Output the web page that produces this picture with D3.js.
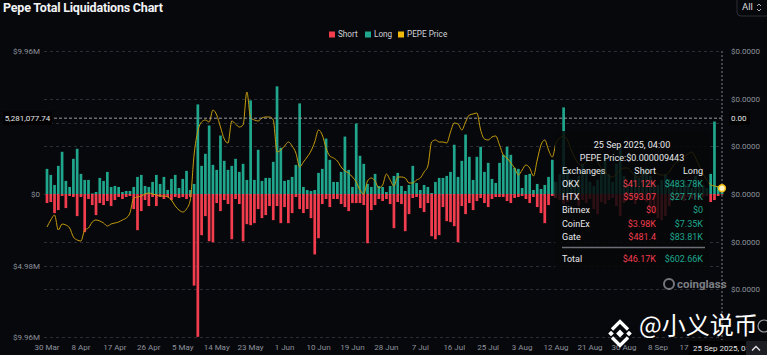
<!DOCTYPE html>
<html><head><meta charset="utf-8">
<script src="https://cdn.jsdelivr.net/npm/d3@7"></script>
<style>
html,body{margin:0;padding:0;background:#07080c;overflow:hidden;}
svg{display:block;font-family:Roboto,"Noto Sans",sans-serif;}
</style></head><body>
<svg id="c" width="767" height="355"></svg>
<script>
// ---------- DATA ----------
const startDate = "2025-03-30"; // one bar per day, 30 Mar -> 25 Sep 2025
// Long liquidations, $M per day
const longM = [1.75,1.33,0.63,1.96,2.94,0.91,0.49,2.45,3.15,1.40,0.98,0.98,0.04,0.14,1.12,0.91,1.54,0.49,0.56,0.49,
0.14,0.21,0.21,0.49,1.19,1.33,0.56,0.49,0.84,1.33,0.70,1.19,0.28,1.05,1.33,0.42,1.05,1.61,0.28,0.70,
6.24,1.96,2.80,4.77,2.03,1.68,4.07,2.31,1.68,1.96,2.45,1.54,2.10,0.98,6.52,0.98,3.08,0.91,1.12,1.12,
2.24,7.50,3.22,0.91,0.98,1.19,2.03,6.31,0.49,0.28,0.21,0.28,1.47,1.75,3.86,2.38,0.84,0.84,1.54,4.00,
1.68,0.49,4.91,2.66,2.10,0.70,0.49,1.40,0.56,0.49,0.14,0.56,1.26,1.47,0.56,0.21,0.63,1.96,0.77,0.28,
0.63,0.49,0.07,0.84,1.12,1.12,1.26,1.54,3.43,1.19,2.31,4.14,2.59,0.98,2.59,3.29,1.54,2.17,1.05,0.77,
2.17,2.73,3.29,2.73,1.82,1.75,0.42,1.33,1.40,0.28,0.70,0.35,0.63,1.19,2.38,0.84,1.40,6.03,1.75,1.05,
0.70,1.26,2.10,1.54,0.84,0.56,0.98,1.75,2.80,1.40,0.84,2.10,3.36,1.26,0.70,0.98,1.40,1.12,1.68,1.82,
1.26,0.84,0.63,0.98,1.40,1.05,0.70,0.84,0.56,0.98,0.70,0.42,1.26,0.84,0.63,0.42,1.40,5.05,0.56,0.60266];
// Short liquidations, $M per day
const shortM = [0.63,0.56,1.33,1.12,0.14,0.98,0.14,0.21,1.54,0.21,2.66,0.35,0.77,1.47,0.63,0.77,0.49,0.84,0.42,0.21,
0.35,0.21,0.14,1.05,2.52,1.19,0.42,0.84,0.21,0.84,0.21,0.35,0.21,0.42,0.21,0.28,0.21,0.35,0.21,6.38,
9.95,2.87,1.54,3.29,3.36,0.63,1.19,0.42,0.70,3.15,0.35,0.70,3.29,2.10,2.17,2.03,1.05,1.68,1.47,0.84,
1.82,0.84,2.03,0.91,2.03,1.33,0.21,1.05,1.33,1.05,1.68,4.21,3.08,0.70,0.35,0.91,0.35,0.35,0.70,0.91,
1.19,0.63,0.63,0.63,0.77,3.43,1.12,0.77,0.35,0.49,0.35,0.70,2.38,0.56,0.70,2.59,1.40,0.28,0.21,0.98,
1.26,0.63,2.94,3.15,2.87,0.91,1.89,1.96,2.24,3.36,0.84,1.40,0.63,1.12,0.49,0.28,0.63,0.91,0.35,0.21,
0.21,0.21,0.49,0.63,0.28,0.21,0.14,0.35,0.63,0.21,0.91,1.33,2.03,0.77,0.14,0.28,0.42,0.70,0.56,0.35,
0.28,0.84,0.42,0.63,0.35,1.05,1.40,0.56,0.70,0.42,0.28,0.84,1.54,0.63,0.35,0.42,0.70,0.28,0.42,0.56,
1.05,1.40,1.68,1.82,1.54,0.84,0.42,0.28,0.35,0.49,0.21,0.35,0.28,0.42,0.21,0.14,0.56,0.42,0.14,0.04617];
// PEPE price, in millionths of a dollar
const priceMicro = [7.815,8.109,8.319,7.690,7.941,7.899,7.774,7.396,7.270,7.228,7.690,7.774,8.025,8.109,8.067,7.983,7.857,7.941,7.983,8.025,
8.109,8.193,8.403,9.032,9.074,9.116,9.200,9.242,9.200,9.158,9.116,9.116,9.074,8.948,8.697,8.529,8.445,8.571,8.948,10.837,
11.844,12.221,12.305,12.221,12.725,12.515,12.011,11.508,11.340,12.263,12.137,12.011,12.095,13.480,12.389,12.305,12.263,12.389,12.431,12.431,
12.305,10.962,11.046,11.214,11.382,11.214,10.920,10.333,10.543,10.753,11.004,11.382,11.885,11.676,11.130,10.795,10.711,10.585,10.333,10.165,
10.081,9.913,9.704,9.368,9.200,9.746,9.871,9.746,9.452,9.578,10.039,9.788,9.536,9.913,9.913,9.871,9.662,9.662,9.788,9.871,
10.123,10.375,11.382,11.466,11.382,11.382,11.340,11.802,12.179,12.137,11.885,12.221,12.515,12.557,12.599,11.885,11.508,11.466,11.592,11.634,
11.256,10.837,10.711,10.501,10.291,9.997,10.207,10.417,10.291,9.955,10.627,11.256,11.466,11.046,10.753,11.340,11.550,11.634,11.466,11.046,
10.711,10.459,10.417,10.543,10.711,10.753,10.543,10.291,10.123,9.955,9.913,10.039,10.207,10.291,10.291,10.123,9.955,9.913,9.997,10.081,
10.123,10.123,10.039,9.997,9.997,10.123,10.375,10.543,10.627,10.753,10.878,10.962,10.711,10.375,10.039,9.788,9.578,9.536,9.494,9.443];
const xTickLabels = ["30 Mar","8 Apr","17 Apr","26 Apr","5 May","14 May","23 May","1 Jun","10 Jun","19 Jun","28 Jun","7 Jul","16 Jul","25 Jul","3 Aug","12 Aug","21 Aug","30 Aug","8 Sep","17 Sep"];
const leftTickValues = [9.96e6, 4.98e6, 0, -4.98e6, -9.96e6];
const leftTickLabels = ["$9.96M","","$0","$4.98M","$9.96M"]; // upper $4.98M label sits under the crosshair label
const rightTickValues = [3.2e-6,5.2e-6,7.2e-6,9.2e-6,11.2e-6,13.2e-6,15.2e-6];
const legendNames = ["Short","Long","PEPE Price"];
const crossValue = 5281077.74;
const tipDate = "25 Sep 2025, 04:00";
const tipPrice = "PEPE Price:$0.000009443";
const tipExchanges = ["OKX","HTX","Bitmex","CoinEx","Gate"];
const tipShort = ["$41.12K","$593.07","$0","$3.98K","$481.4"];
const tipLong = ["$483.78K","$27.71K","$0","$7.35K","$83.81K"];
const tipTotal = ["$46.17K","$602.66K"];

// ---------- STYLE ----------
const C = {bg:"#07080c", red:"#f23d4f", teal:"#1fa68c", yellow:"#f0b90b", line:"#c49b0c",
  grid:"#2b2e36", axis:"#8d929b", white:"#e8e9ec"};
const W = 767, H = 355;
const L = 44, R = 722, T = 51, B = 337;

const svg = d3.select("#c");
svg.append("rect").attr("width",W).attr("height",H).attr("fill",C.bg);
const defs = svg.append("defs");
defs.append("clipPath").attr("id","xclip").append("rect").attr("x",0).attr("y",330).attr("width",689).attr("height",25);

const parse = d3.timeParse("%Y-%m-%d");
const d0 = parse(startDate);
const dates = longM.map((_, i) => d3.timeDay.offset(d0, i));

const x = d3.scaleTime().domain([dates[0], dates[dates.length-1]]).range([47, 722]);
const y = d3.scaleLinear().domain([-9.96e6, 9.96e6]).range([B, T]);
const y2 = d3.scaleLinear().domain([3.2e-6, 15.2e-6]).range([B, T]);

// grid
const g = svg.append("g");
const gridYs = Array.from(new Set([...leftTickValues.map(v=>Math.round(y(v))), ...rightTickValues.map(v=>Math.round(y2(v)))]));
g.selectAll("line.grid").data(gridYs).join("line")
  .attr("x1",L).attr("x2",R).attr("y1",d=>d+0.5).attr("y2",d=>d+0.5)
  .attr("stroke",C.grid).attr("stroke-width",1).attr("stroke-dasharray","3,3");

// bars
const bw = 2.7;
const rows = dates.map((d,i)=>({d, long: longM[i]*1e6, short: shortM[i]*1e6, price: priceMicro[i]*1e-6}));
g.selectAll("rect.long").data(rows).join("rect")
  .attr("x",d=>x(d.d)-bw/2).attr("width",bw)
  .attr("y",d=>y(d.long)).attr("height",d=>y(0)-y(d.long))
  .attr("fill",C.teal);
g.selectAll("rect.short").data(rows).join("rect")
  .attr("x",d=>x(d.d)-bw/2).attr("width",bw)
  .attr("y",y(0)).attr("height",d=>y(-d.short)-y(0))
  .attr("fill",C.red);

// price line
const line = d3.line().x(d=>x(d.d)).y(d=>y2(d.price)).curve(d3.curveMonotoneX);
g.append("path").datum(rows).attr("d",line).attr("fill","none")
  .attr("stroke",C.line).attr("stroke-width",1);

// crosshair
const cy = y(crossValue);
const cx = x(dates[dates.length-1]);
svg.append("line").attr("x1",L).attr("x2",R).attr("y1",cy).attr("y2",cy)
  .attr("stroke","#9a9da4").attr("stroke-width",1).attr("stroke-dasharray","3,2");
svg.append("line").attr("x1",cx).attr("x2",cx).attr("y1",T).attr("y2",340)
  .attr("stroke","#7d8088").attr("stroke-width",1).attr("stroke-dasharray","2,2");

// end dot
const last = rows[rows.length-1];
svg.append("circle").attr("cx",x(last.d)).attr("cy",y2(last.price)).attr("r",3.4)
  .attr("fill","#fff6c8").attr("stroke",C.yellow).attr("stroke-width",1.5);

// left axis labels
svg.append("g").selectAll("text").data(leftTickValues.filter((d,i)=>leftTickLabels[i])).join("text")
  .attr("x",40).attr("y",d=>y(d)+3).attr("text-anchor","end")
  .attr("font-size",8).attr("fill",C.axis).text(d=>leftTickLabels[leftTickValues.indexOf(d)]);
// right axis labels
const fmtPrice = v => "$" + v.toFixed(4);
svg.append("g").selectAll("text").data(rightTickValues.slice(1)).join("text")
  .attr("x",731).attr("y",d=>y2(d)+3)
  .attr("font-size",8).attr("fill",C.axis).text(d=>fmtPrice(d));

// x axis labels
const xTickDates = xTickLabels.map((_,k)=>d3.timeDay.offset(d0, k*9));
svg.append("g").attr("clip-path","url(#xclip)").selectAll("text").data(xTickDates).join("text")
  .attr("x",d=>x(d)).attr("y",350).attr("text-anchor","middle")
  .attr("font-size",8).attr("fill",C.axis).text((d,i)=>xTickLabels[i]);

// title
svg.append("text").attr("x",3).attr("y",12).attr("font-size",12.5).attr("font-weight",700)
  .attr("fill","#f2f3f5").attr("letter-spacing",-0.2).text("Pepe Total Liquidations Chart");

// "All" selector
const sel = svg.append("g");
sel.append("rect").attr("x",737).attr("y",-4).attr("width",34).attr("height",20).attr("rx",4)
  .attr("fill","none").attr("stroke","#2c2f37");
sel.append("text").attr("x",742).attr("y",10).attr("font-size",9.5).attr("fill","#d8d9dc").text("All");
sel.append("path").attr("d","M757,6 l2,-2 l2,2 M757,9 l2,2 l2,-2").attr("fill","none").attr("stroke","#c8c9cc").attr("stroke-width",0.9);

// legend
const legColors = [C.red, C.teal, C.yellow];
const legX = [329, 365, 398];
const leg = svg.append("g");
legendNames.forEach((n,i)=>{
  leg.append("rect").attr("x",legX[i]).attr("y",31.5).attr("width",6).attr("height",6).attr("fill",legColors[i]);
  leg.append("text").attr("x",legX[i]+9).attr("y",37.3).attr("font-size",8.2).attr("fill","#cfd1d5").text(n);
});

// tooltip
const tip = svg.append("g");
tip.append("rect").attr("x",555).attr("y",131).attr("width",154).attr("height",138).attr("rx",3)
  .attr("fill","rgba(6,7,10,0.84)");
tip.append("text").attr("x",632).attr("y",148).attr("text-anchor","middle").attr("font-size",9).attr("fill",C.white).text(tipDate);
tip.append("text").attr("x",632).attr("y",161).attr("text-anchor","middle").attr("font-size",9).attr("fill",C.white).text(tipPrice);
tip.append("text").attr("x",562).attr("y",174).attr("font-size",9).attr("fill",C.white).text("Exchanges");
tip.append("text").attr("x",656).attr("y",174).attr("text-anchor","end").attr("font-size",9).attr("fill",C.white).text("Short");
tip.append("text").attr("x",703).attr("y",174).attr("text-anchor","end").attr("font-size",9).attr("fill",C.white).text("Long");
tipExchanges.forEach((ex,i)=>{
  const yy = 187 + i*13.2;
  tip.append("text").attr("x",562).attr("y",yy).attr("font-size",9).attr("fill",C.white).text(ex);
  tip.append("text").attr("x",656).attr("y",yy).attr("text-anchor","end").attr("font-size",9).attr("fill",C.red).text(tipShort[i]);
  tip.append("text").attr("x",703).attr("y",yy).attr("text-anchor","end").attr("font-size",9).attr("fill",C.teal).text(tipLong[i]);
});
tip.append("line").attr("x1",562).attr("x2",705).attr("y1",247.5).attr("y2",247.5).attr("stroke","#6b6e75").attr("stroke-width",1.5);
tip.append("text").attr("x",562).attr("y",262).attr("font-size",9).attr("fill",C.white).text("Total");
tip.append("text").attr("x",656).attr("y",262).attr("text-anchor","end").attr("font-size",9).attr("fill",C.red).text(tipTotal[0]);
tip.append("text").attr("x",703).attr("y",262).attr("text-anchor","end").attr("font-size",9).attr("fill",C.teal).text(tipTotal[1]);

// coinglass watermark
const wm = svg.append("g").attr("opacity",0.75);
wm.append("circle").attr("cx",669).attr("cy",284).attr("r",5).attr("fill","none").attr("stroke","#9a9ca2").attr("stroke-width",2);
wm.append("text").attr("x",677).attr("y",288).attr("font-size",11.5).attr("font-weight",700).attr("fill","#a3a5ab").text("coinglass");

// crosshair labels
const fmtComma = d3.format(",.2f");
svg.append("rect").attr("x",3).attr("y",cy-6.5).attr("width",49).attr("height",13).attr("fill","#000");
svg.append("text").attr("x",27.5).attr("y",cy+3).attr("text-anchor","middle").attr("font-size",8).attr("fill","#e6e7ea").text(fmtComma(crossValue));
svg.append("rect").attr("x",729).attr("y",cy-6.5).attr("width",21).attr("height",13).attr("fill","#000");
svg.append("text").attr("x",731).attr("y",cy+3).attr("font-size",8).attr("fill","#e6e7ea").text("0.00");
svg.append("rect").attr("x",689).attr("y",341).attr("width",78).attr("height",14).attr("fill","#000");
defs.append("clipPath").attr("id","dclip").append("rect").attr("x",689).attr("y",341).attr("width",57).attr("height",14);
svg.append("text").attr("clip-path","url(#dclip)").attr("x",693).attr("y",350.5).attr("font-size",8).attr("fill","#e6e7ea").text(tipDate);
svg.append("rect").attr("x",746).attr("y",341).attr("width",21).attr("height",14).attr("fill","#1c1e24");
svg.append("path").attr("d","M752,350.5 l4,-4 l4,4").attr("fill","none").attr("stroke","#e6e7ea").attr("stroke-width",1.3);

// overlay watermark (author tag)
const ov = svg.append("g");
const lc = [620, 333.5];
const dia = (cx0, cy0, s) => ov.append("rect").attr("x",cx0-s/2).attr("y",cy0-s/2).attr("width",s).attr("height",s)
  .attr("transform",`rotate(45 ${cx0} ${cy0})`).attr("fill","#ffffff");
dia(lc[0], lc[1], 5.5);
dia(lc[0]-9, lc[1], 4);
dia(lc[0]+9, lc[1], 4);
ov.append("path").attr("d",`M${lc[0]-8},${lc[1]-4} L${lc[0]},${lc[1]-12} L${lc[0]+8},${lc[1]-4}`).attr("fill","none").attr("stroke","#fff").attr("stroke-width",3.2);
ov.append("path").attr("d",`M${lc[0]-8},${lc[1]+4} L${lc[0]},${lc[1]+12} L${lc[0]+8},${lc[1]+4}`).attr("fill","none").attr("stroke","#fff").attr("stroke-width",3.2);
ov.append("text").attr("x",639).attr("y",334).attr("font-size",24)
  .attr("font-family","'Noto Sans CJK SC','Noto Sans',sans-serif").attr("fill","#ffffff").text("@小义说币");
ov.append("circle").attr("cx",764).attr("cy",326).attr("r",6).attr("fill","none").attr("stroke","#9a9ca2").attr("stroke-width",1.2);
</script>
</body></html>
